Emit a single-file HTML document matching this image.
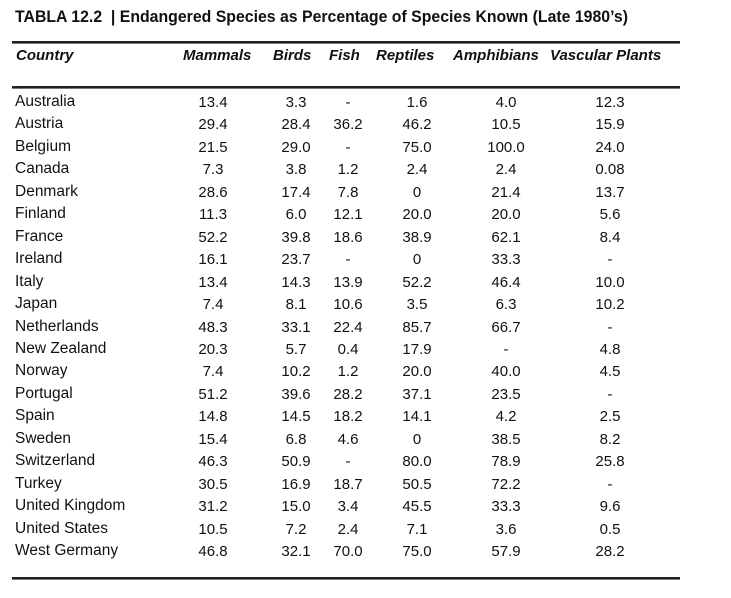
<!DOCTYPE html>
<html><head><meta charset="utf-8"><style>
body{margin:0;width:731px;height:598px;background:#fff;position:relative;overflow:hidden;font-family:"Liberation Sans",sans-serif;color:#111}
.t{position:absolute;white-space:nowrap}
.rule{position:absolute;left:12px;width:668px;height:3px;border-top:2px solid #222;border-bottom:1px solid #777;box-sizing:border-box}
.h{font-weight:bold;font-style:italic;font-size:15px;top:47px}
.c{font-size:15px;transform:translateX(-50%)}
.n{font-size:15.5px;left:15px}
</style></head><body>
<div class="t" style="left:15px;top:8px;font-weight:bold;font-size:16.5px;transform:scaleX(0.96);transform-origin:left">TABLA 12.2 &nbsp;| Endangered Species as Percentage of Species Known (Late 1980’s)</div>
<div class="rule" style="top:41px"></div>
<div class="rule" style="top:86px"></div>
<div class="rule" style="top:577px"></div>
<div class="t h" style="left:16px">Country</div>
<div class="t h" style="left:183px">Mammals</div>
<div class="t h" style="left:273px">Birds</div>
<div class="t h" style="left:329px">Fish</div>
<div class="t h" style="left:376px">Reptiles</div>
<div class="t h" style="left:453px">Amphibians</div>
<div class="t h" style="left:550px">Vascular Plants</div>
<script>
const countries=["Australia","Austria","Belgium","Canada","Denmark","Finland","France","Ireland","Italy","Japan","Netherlands","New Zealand","Norway","Portugal","Spain","Sweden","Switzerland","Turkey","United Kingdom","United States","West Germany"];
const mammals=["13.4","29.4","21.5","7.3","28.6","11.3","52.2","16.1","13.4","7.4","48.3","20.3","7.4","51.2","14.8","15.4","46.3","30.5","31.2","10.5","46.8"];
const birds=["3.3","28.4","29.0","3.8","17.4","6.0","39.8","23.7","14.3","8.1","33.1","5.7","10.2","39.6","14.5","6.8","50.9","16.9","15.0","7.2","32.1"];
const fish=["-","36.2","-","1.2","7.8","12.1","18.6","-","13.9","10.6","22.4","0.4","1.2","28.2","18.2","4.6","-","18.7","3.4","2.4","70.0"];
const reptiles=["1.6","46.2","75.0","2.4","0","20.0","38.9","0","52.2","3.5","85.7","17.9","20.0","37.1","14.1","0","80.0","50.5","45.5","7.1","75.0"];
const amphibians=["4.0","10.5","100.0","2.4","21.4","20.0","62.1","33.3","46.4","6.3","66.7","-","40.0","23.5","4.2","38.5","78.9","72.2","33.3","3.6","57.9"];
const plants=["12.3","15.9","24.0","0.08","13.7","5.6","8.4","-","10.0","10.2","-","4.8","4.5","-","2.5","8.2","25.8","-","9.6","0.5","28.2"];
const cols=[[mammals,213,"mammals"],[birds,296,"birds"],[fish,348,"fish"],[reptiles,417,"reptiles"],[amphibians,506,"amphibians"],[plants,610,"vascular-plants"]];
countries.forEach((c,i)=>{
  const y=93+i*22.45;
  const d=document.createElement('div');
  d.className='t n';d.style.top=y+'px';d.textContent=c;
  
  
  document.body.appendChild(d);
  cols.forEach(([arr,x,nm])=>{
    const e=document.createElement('div');
    e.className='t c';e.style.top=(y+1)+'px';e.style.left=x+'px';e.textContent=arr[i];
    
    
    document.body.appendChild(e);
  });
});
</script>
</body></html>
